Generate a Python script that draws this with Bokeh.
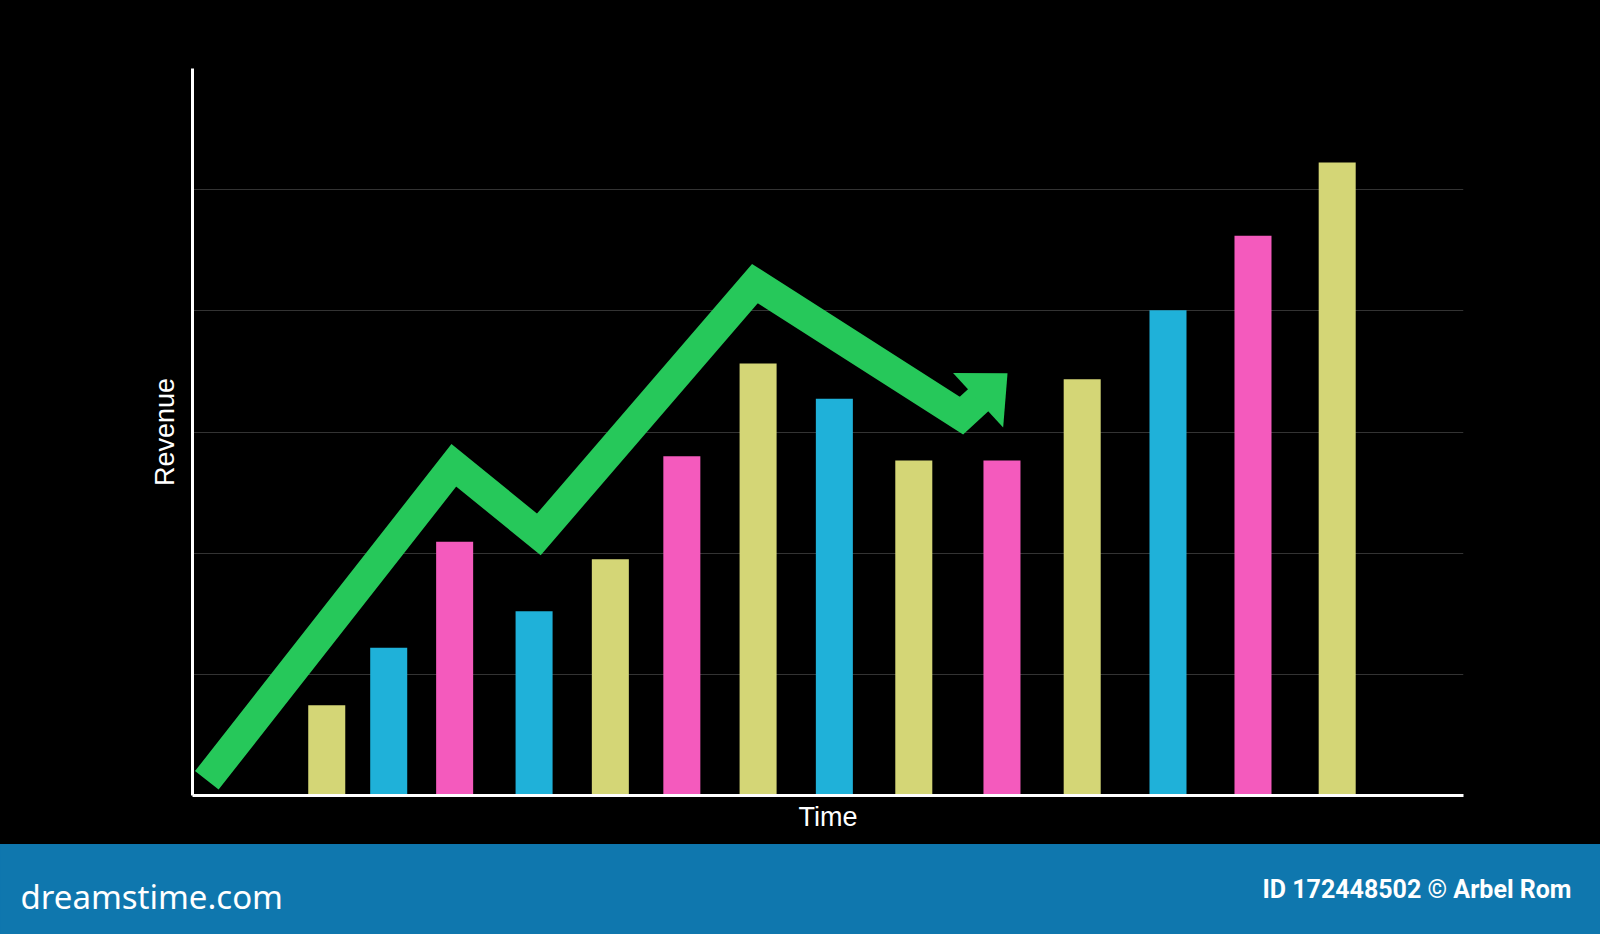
import math
from bokeh.plotting import figure
from bokeh.models import Range1d, FixedTicker, Label, ColumnDataSource
from bokeh.layouts import column
from bokeh.embed import file_html
from bokeh.resources import INLINE

# ---------------- data ----------------
bar_time = [1.69, 2.47, 3.30, 4.30, 5.26, 6.16, 7.12, 8.08, 9.08, 10.19, 11.20, 12.28, 13.35, 14.41]
bar_revenue = [14.9, 24.4, 41.9, 30.4, 39.0, 56.0, 71.3, 65.5, 55.3, 55.3, 68.7, 80.1, 92.4, 104.5]
bar_colors = ["#d4d676", "#1fb1d9", "#f45abd", "#1fb1d9", "#d4d676", "#f45abd", "#d4d676",
              "#1fb1d9", "#d4d676", "#f45abd", "#d4d676", "#1fb1d9", "#f45abd", "#d4d676"]
trend_time = [0.18, 3.29, 4.36, 7.08, 9.68, 10.26]
trend_revenue = [2.5, 54.5, 43.1, 84.5, 62.7, 69.7]
grid_levels = [20, 40, 60, 80, 100]
x_extent = [0, 16]
y_extent = [0, 120]

# ---------------- layout constants ----------------
W = 1600
MAIN_H = 844
FOOT_H = 90
B_LEFT, B_RIGHT, B_TOP, B_BOTTOM = 192, 137, 68, 49
GREEN = "#26c85a"
FOOT_BLUE = "#0f77ae"

p = figure(width=W, height=MAIN_H,
           x_range=Range1d(*x_extent), y_range=Range1d(*y_extent),
           output_backend="svg", toolbar_location=None,
           background_fill_color="black", border_fill_color="black",
           min_border_left=B_LEFT, min_border_right=B_RIGHT,
           min_border_top=B_TOP, min_border_bottom=B_BOTTOM,
           styles={"background-color": "black"})
p.outline_line_color = None

for ax in (p.xaxis[0], p.yaxis[0]):
    ax.ticker = FixedTicker(ticks=[])
    ax.axis_line_color = "white"
    ax.axis_line_width = 3
    ax.major_tick_line_color = None
    ax.minor_tick_line_color = None
    ax.major_tick_out = 0
    ax.minor_tick_out = 0
    ax.major_label_standoff = 0
    ax.axis_label_text_color = "white"
    ax.axis_label_text_font = "Liberation Sans"
    ax.axis_label_text_font_size = "27px"
    ax.axis_label_text_font_style = "normal"

p.xaxis.axis_label = "Time"
p.yaxis.axis_label = "Revenue"
p.xaxis.axis_label_standoff = 6
p.yaxis.axis_label_standoff = 13

p.xgrid.visible = False
p.ygrid.ticker = FixedTicker(ticks=grid_levels)
p.ygrid.grid_line_color = "#333333"
p.ygrid.grid_line_width = 1

src = ColumnDataSource(dict(x=bar_time, top=bar_revenue, color=bar_colors))
p.vbar(x="x", top="top", bottom=0, width=0.466, fill_color="color", line_color=None, source=src)

# trend arrow: shaft to arrow-head base, head as triangle
frame_w = W - B_LEFT - B_RIGHT
frame_h = MAIN_H - B_TOP - B_BOTTOM
sx = frame_w / (x_extent[1] - x_extent[0])
sy = frame_h / (y_extent[1] - y_extent[0])
tipx, tipy = trend_time[-1] * sx, trend_revenue[-1] * sy
prvx, prvy = trend_time[-2] * sx, trend_revenue[-2] * sy
dx, dy = tipx - prvx, tipy - prvy
L = math.hypot(dx, dy)
ux, uy = dx / L, dy / L
head_len, head_half = 40, 37
bx, by = tipx - ux * head_len, tipy - uy * head_len
ex, ey = bx + ux * 6, by + uy * 6
shaft_x = trend_time[:-1] + [ex / sx]
shaft_y = trend_revenue[:-1] + [ey / sy]
p.line(shaft_x, shaft_y, line_width=30, line_color=GREEN, line_join="miter", line_cap="butt")
px_, py_ = -uy, ux
head_x = [tipx / sx, (bx + px_ * head_half) / sx, (bx - px_ * head_half) / sx]
head_y = [tipy / sy, (by + py_ * head_half) / sy, (by - py_ * head_half) / sy]
p.patch(head_x, head_y, fill_color=GREEN, line_color=None)

# ---------------- footer ----------------
f = figure(width=W, height=FOOT_H,
           x_range=Range1d(0, W), y_range=Range1d(0, FOOT_H),
           output_backend="svg", toolbar_location=None,
           x_axis_type=None, y_axis_type=None,
           background_fill_color=FOOT_BLUE, border_fill_color=FOOT_BLUE,
           min_border=0,
           styles={"background-color": FOOT_BLUE})
f.outline_line_color = None
f.grid.visible = False
for fig in (p, f):
    try:
        fig.frame_align = False
    except Exception:
        pass
f.add_layout(Label(x=20, y=38, text="dreamstime.com", text_color="white",
                   text_font="Noto Sans", text_font_size="33px",
                   text_align="left", text_baseline="alphabetic"))
f.add_layout(Label(x=1571, y=45, text="ID 172448502 \u00a9 Arbel Rom", text_color="white",
                   text_font="Roboto", text_font_size="25px", text_font_style="bold",
                   text_align="right", text_baseline="alphabetic"))

layout = column(p, f, spacing=0, styles={"background-color": "black"})
open("out.html", "w").write(file_html(layout, INLINE))
